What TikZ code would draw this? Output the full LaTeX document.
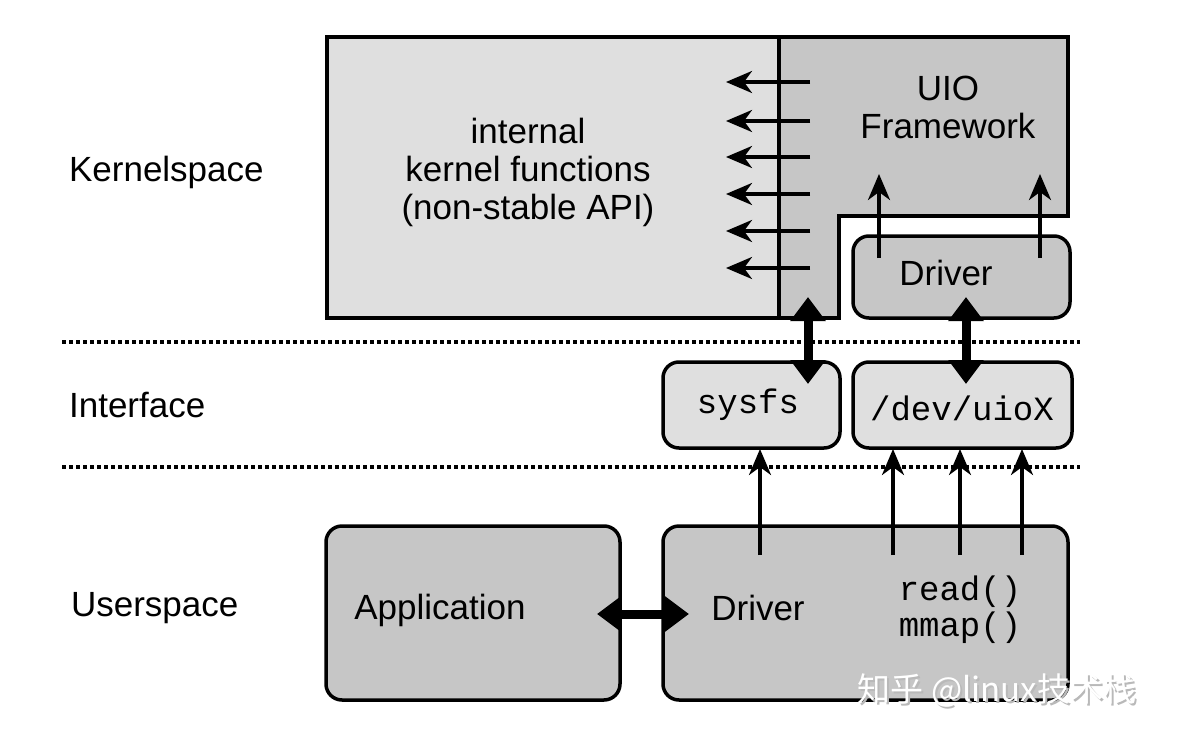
\documentclass[tikz,border=0pt]{standalone}
\usepackage{fontspec}
\setmainfont{Liberation Sans}
\setmonofont{Liberation Mono}
\newfontfamily\cjkf{Noto Sans CJK SC}
\usetikzlibrary{arrows.meta}
\begin{document}
\begin{tikzpicture}[x=1pt,y=-1pt,line width=3.5pt,
  lbl/.style={font=\fontsize{35}{38}\selectfont,align=center},
  mono/.style={font=\ttfamily\fontsize{34}{36}\selectfont},
  rbox/.style={draw,rounded corners=16pt},
  thin/.style={line width=3.5pt,-{Stealth[length=26pt,width=22pt,inset=8pt]}},
  dbl/.style={line width=9pt,{Triangle[length=24pt,width=34pt]}-{Triangle[length=24pt,width=34pt]}},
  wmk/.style={font=\cjkf\fontsize{33}{36}\selectfont,anchor=west,inner sep=0pt}]
\useasboundingbox (0,0) rectangle (1187,742);
\fill[white] (0,0) rectangle (1187,742);
% kernel internal
\draw[fill=gray!25] (327,37) rectangle (779,318);
\node[lbl] (kf) at (528,172) {internal\\kernel functions\\(non-stable API)};
% UIO framework
\draw[fill=gray!45,line join=miter] (779,37) -- (1068,37) -- (1068,216) -- (839,216) -- (839,318) -- (779,318) -- cycle;
\node[lbl] (uio) at (948,107) {UIO\\Framework};
\foreach \y [count=\i] in {82,121,157,194,231,268}{
  \coordinate (s\i) at (810,\y); \coordinate (e\i) at (726,\y);
  \draw[thin] (s\i) -- (e\i);}
% kernel driver
\draw[rbox,fill=gray!45] (853,236) rectangle (1070,318);
\node[lbl] (kdrv) at (946,273) {Driver};
\coordinate (ka1) at (879,258); \coordinate (kb1) at (879,174);
\coordinate (ka2) at (1040,258); \coordinate (kb2) at (1040,174);
\draw[thin] (ka1) -- (kb1);
\draw[thin] (ka2) -- (kb2);
% dotted lines
\coordinate (d1a) at (62,342); \coordinate (d1b) at (1080,342);
\coordinate (d2a) at (62,467); \coordinate (d2b) at (1080,467);
\draw[line width=3.5pt,dash pattern=on 3.5pt off 3.5pt] (d1a) -- (d1b);
\draw[line width=3.5pt,dash pattern=on 3.5pt off 3.5pt] (d2a) -- (d2b);
% interface
\draw[rbox,fill=gray!25] (663,362) rectangle (840,448);
\node[mono] (sysfs) at (748,405) {sysfs};
\draw[rbox,fill=gray!25] (853,362) rectangle (1072,448);
\node[mono] (dev) at (962,408) {/dev/uioX};
\coordinate (a1) at (808,297); \coordinate (b1) at (808,384);
\coordinate (a2) at (966,297); \coordinate (b2) at (966,384);
\draw[dbl] (a1) -- (b1);
\draw[dbl] (a2) -- (b2);
% userspace
\draw[rbox,fill=gray!45] (326,526) rectangle (620,700);
\node[lbl] (app) at (440,610) {Application};
\draw[rbox,fill=gray!45] (663,526) rectangle (1068,700);
\node[lbl] (udrv) at (758,608) {Driver};
\node[mono,align=center] (rm) at (960,610) {read()\\mmap()};
\coordinate (h1) at (597,614); \coordinate (h2) at (689,614);
\draw[dbl] (h1) -- (h2);
\foreach \x [count=\i] in {760,893,960,1022}{
  \coordinate (u\i) at (\x,555); \coordinate (v\i) at (\x,449);
  \draw[thin] (u\i) -- (v\i);}
% side labels
\node[lbl,anchor=west] (ks) at (64,172) {Kernelspace};
\node[lbl,anchor=west] (ifc) at (64,405) {Interface};
\node[lbl,anchor=west] (us) at (66,608) {Userspace};
\node[wmk,text=gray!55] (wms) at (858,692) {知乎 @linux技术栈};
\node[wmk,text=white] (wm) at (856,690) {知乎 @linux技术栈};
\end{tikzpicture}
\end{document}
